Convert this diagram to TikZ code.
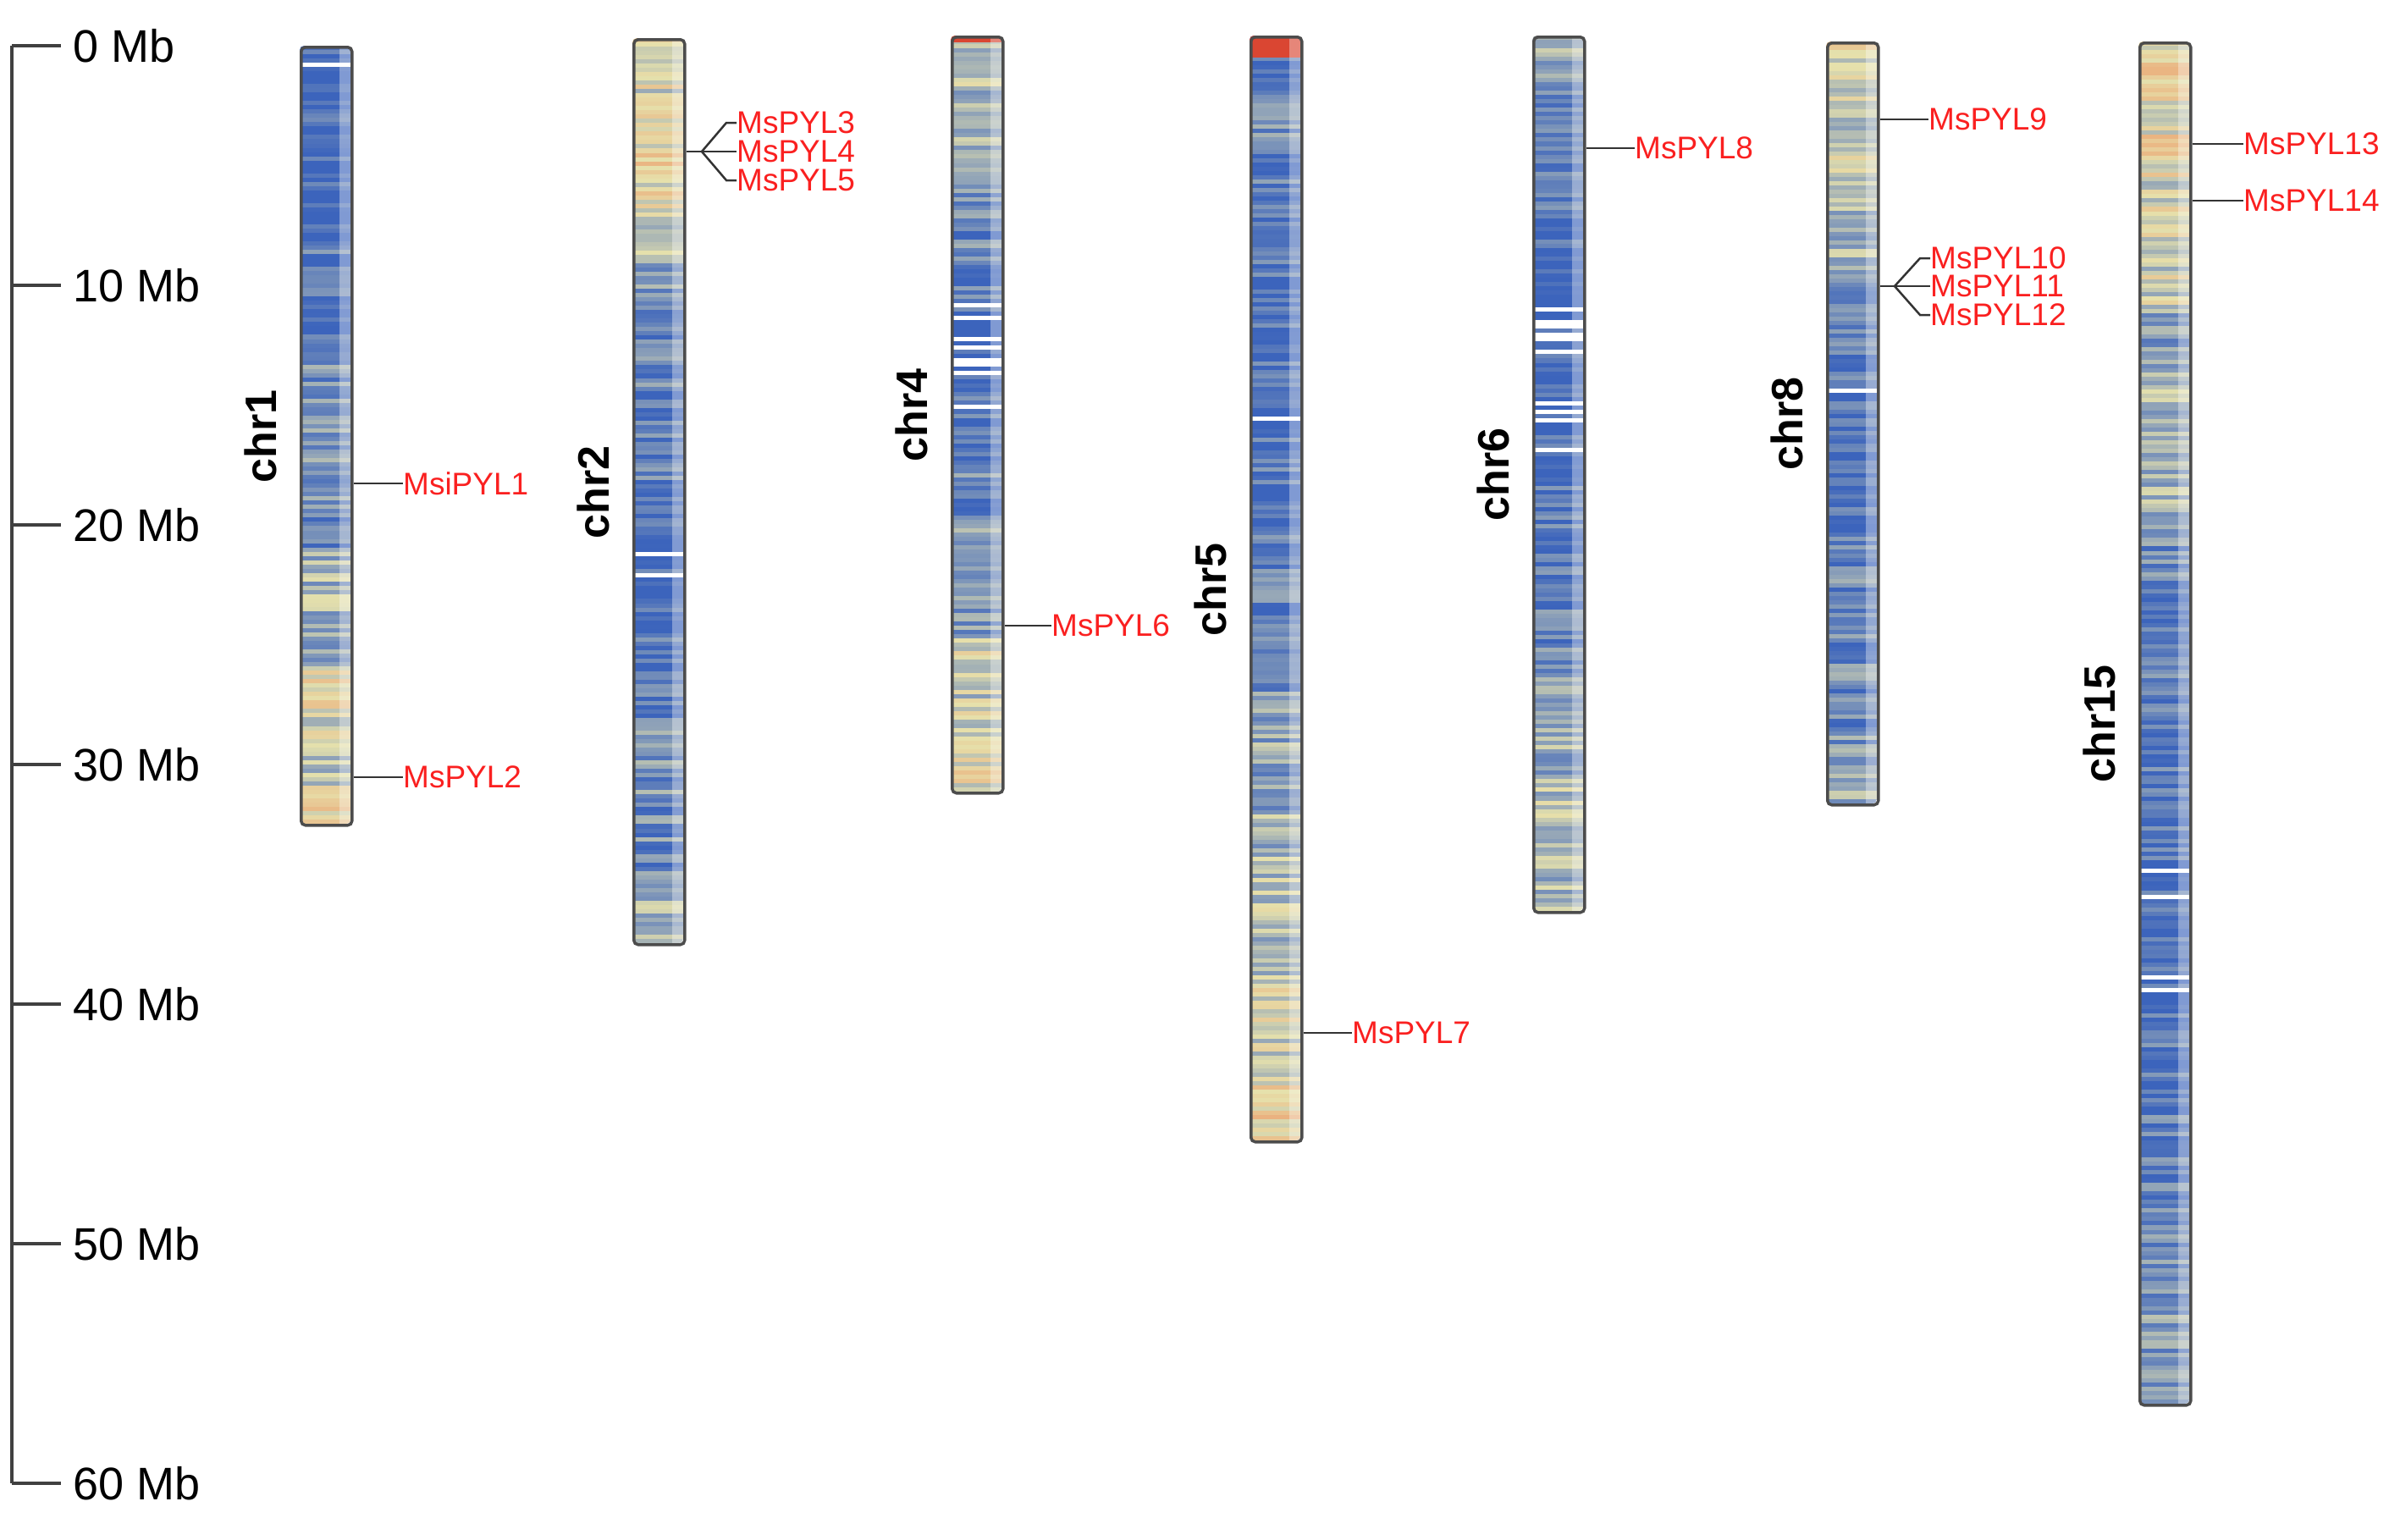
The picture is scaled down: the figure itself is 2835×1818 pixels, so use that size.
\documentclass[tikz,border=0pt]{standalone}
\usepackage{fontspec}
\setmainfont{Liberation Sans}
\usepackage{xcolor}
\usepackage{tikz}
\usetikzlibrary{positioning}

\definecolor{s0}{RGB}{60,100,188}
\definecolor{s1}{RGB}{140,160,184}
\definecolor{s2}{RGB}{230,225,172}
\definecolor{s3}{RGB}{235,168,118}
\definecolor{s4}{RGB}{218,70,50}
\definecolor{genered}{RGB}{250,32,32}

% #1 name, #2 left x, #3 top y, #4 bottom y, #5 density along the chromosome (20 values), #6 red cap
\newcommand{\chrom}[6]{
  \begin{scope}
    \clip[rounded corners=5pt] (#2,#3) rectangle (#2+60,#4);
    \pgfmathtruncatemacro\nst{(#4-#3)/5}
    \pgfmathsetmacro\hst{(#4-#3)/\nst}
    \foreach \i in {1,...,\nst}{
      \pgfmathtruncatemacro\k{min(19,floor((\i-0.5)/\nst*20))}
      \pgfmathsetmacro\w{{#5}[\k]+1.4*rnd-0.7}
      \pgfmathtruncatemacro\kc{\w<-0.45 ? -1 : min(3,max(0,floor(\w)))}
      \ifnum\kc<0 \def\stc{white}\else
        \pgfmathtruncatemacro\fc{100*(min(4,max(0,\w))-\kc)}
        \pgfmathtruncatemacro\kn{\kc+1}
        \edef\stc{s\kn!\fc!s\kc}
      \fi
      \fill[fill=\stc] (#2,{#3+(\i-1)*\hst}) rectangle (#2+60,{#3+\i*\hst+0.6});
    }
    \fill[s4] (#2,#3) rectangle (#2+60,#3+#6);
    \fill[white,opacity=.35] (#2+47,#3) rectangle (#2+60,#4);
  \end{scope}
  \node[chrbox, minimum height={#4-#3}] (#1) at (#2,#3) {};
  \node[left=27pt of #1.west, chrlab] (#1lab) {#1};
}

\begin{document}
\begin{tikzpicture}[x=1pt, y=-1pt,
    chrbox/.style={draw=black!70, line width=3.5pt, rounded corners=5pt, minimum width=60pt, inner sep=0pt, anchor=north west},
    chrlab/.style={font=\fontsize{52}{52}\selectfont\bfseries, rotate=90, inner sep=0pt, anchor=south},
    gene/.style={text=genered, font=\fontsize{37}{37}\selectfont, inner sep=0pt, anchor=west},
    tie/.style={draw=black!80, line width=2.5pt},
    axisline/.style={draw=black!75, line width=4pt},
    scalelab/.style={font=\fontsize{54}{54}\selectfont, inner sep=0pt, anchor=west}]

  \useasboundingbox (0,0) rectangle (2835,1818);
  \pgfmathsetseed{11}

  % scale
  \draw[axisline] (14,54) coordinate (ax0) -- (14,1752) coordinate (ax60);
  \foreach \m in {0,10,...,60}{
    \node[scalelab] (mb\m) at (86,{54+28.3*\m}) {\m\ Mb};
    \draw[axisline] (ax0 |- mb\m.west) -- ([xshift=-14pt]mb\m.west);
  }

  % chromosomes
  \chrom{chr1}{354}{54}{973}{0.0,0.1,0.0,0.2,0.3,0.5,0.4,0.3,0.8,0.9,1.0,0.7,0.7,1.3,1.3,1.0,2.1,1.9,1.6,2.0}{0}
  \chrom{chr2}{747}{45}{1114}{2.1,1.8,2.1,2.0,1.4,1.0,0.5,0.6,0.4,0.6,0.3,0.0,0.3,0.3,0.6,0.8,0.8,0.7,0.6,1.2}{0}
  \chrom{chr4}{1123}{42}{935}{1.2,1.4,1.3,1.1,0.9,0.6,0.4,0.1,0.0,0.2,0.3,0.6,0.6,0.9,0.8,1.0,1.8,1.6,1.8,1.9}{8}
  \chrom{chr5}{1476}{42}{1347}{0.5,0.7,0.4,0.3,0.3,0.3,0.2,0.3,0.3,0.4,0.5,0.8,1.1,1.0,1.3,1.5,1.5,1.7,1.8,2.2}{26}
  \chrom{chr6}{1810}{42}{1076}{1.3,0.6,0.6,0.4,0.3,0.2,-0.2,0.0,-0.1,0.2,0.3,0.3,0.3,0.6,0.9,1.0,1.2,1.5,1.4,1.3}{0}
  \chrom{chr8}{2157}{49}{949}{2.0,1.7,1.4,1.6,1.4,1.3,0.8,0.6,0.3,0.1,0.0,0.3,0.3,0.4,0.6,0.5,0.7,0.6,0.9,1.2}{0}
  \chrom{chr15}{2526}{49}{1658}{2.1,2.1,1.8,1.7,1.0,1.3,1.2,0.7,0.6,0.4,0.3,0.3,0.1,0.1,0.3,0.4,0.4,0.6,0.9,0.8}{0}

  % genes
  \node[gene] (g1) at (476,571) {MsiPYL1};
  \node[gene] (g2) at (476,918) {MsPYL2};
  \node[gene] (g3) at (870,145) {MsPYL3};
  \node[gene] (g4) at (870,179) {MsPYL4};
  \node[gene] (g5) at (870,213) {MsPYL5};
  \node[gene] (g6) at (1242,739) {MsPYL6};
  \node[gene] (g7) at (1597,1220) {MsPYL7};
  \node[gene] (g8) at (1931,175) {MsPYL8};
  \node[gene] (g9) at (2278,141) {MsPYL9};
  \node[gene] (g10) at (2280,305) {MsPYL10};
  \node[gene] (g11) at (2280,338) {MsPYL11};
  \node[gene] (g12) at (2280,372) {MsPYL12};
  \node[gene] (g13) at (2650,170) {MsPYL13};
  \node[gene] (g14) at (2650,237) {MsPYL14};
  \coordinate (fan2) at (829,179);
  \coordinate (fan8) at (2238,338);

  \draw[tie] (chr1.east |- g1.west) -- (g1.west);
  \draw[tie] (chr1.east |- g2.west) -- (g2.west);
  \draw[tie] (chr2.east |- fan2) -- (fan2) -- (g4.west);
  \draw[tie] (fan2) -- ([xshift=-12pt]g3.west) -- (g3.west);
  \draw[tie] (fan2) -- ([xshift=-12pt]g5.west) -- (g5.west);
  \draw[tie] (chr4.east |- g6.west) -- (g6.west);
  \draw[tie] (chr5.east |- g7.west) -- (g7.west);
  \draw[tie] (chr6.east |- g8.west) -- (g8.west);
  \draw[tie] (chr8.east |- g9.west) -- (g9.west);
  \draw[tie] (chr8.east |- fan8) -- (fan8) -- (g11.west);
  \draw[tie] (fan8) -- ([xshift=-12pt]g10.west) -- (g10.west);
  \draw[tie] (fan8) -- ([xshift=-12pt]g12.west) -- (g12.west);
  \draw[tie] (chr15.east |- g13.west) -- (g13.west);
  \draw[tie] (chr15.east |- g14.west) -- (g14.west);
\end{tikzpicture}
\end{document}
